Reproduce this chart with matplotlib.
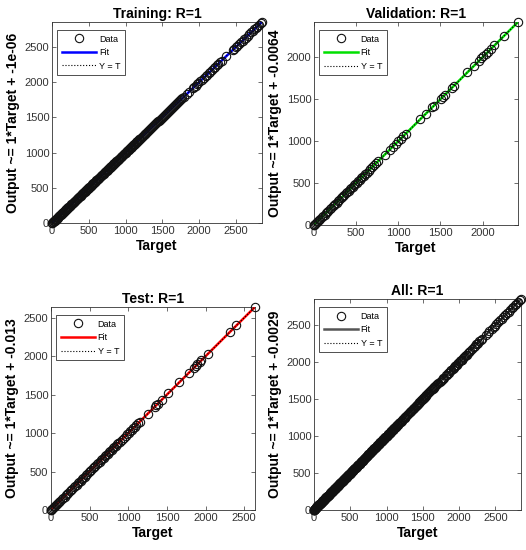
import numpy as np
import matplotlib
matplotlib.use("Agg")
import matplotlib.pyplot as plt

plt.rcParams['font.family'] = ['Liberation Sans', 'DejaVu Sans']

# targets (outputs sit on the diagonal, R=1)
train_target = [
    0, 4, 9, 15, 22, 28, 35, 41, 48, 56, 63, 70, 78, 85, 93, 101, 108, 116, 124, 131,
    139, 147, 154, 162, 170, 178, 185, 193, 201, 209, 217, 224, 232, 240, 248, 255, 263,
    271, 279, 287, 295, 302, 310, 318, 326, 334, 342, 350, 357, 365, 373, 381, 389, 397,
    405, 412, 420, 428, 436, 444, 452, 460, 468, 476, 484, 492, 500, 508, 516, 524, 532,
    540, 548, 556, 564, 572, 580, 588, 596, 604, 612, 620, 628, 636, 645, 653, 661, 669,
    677, 685, 693, 702, 710, 718, 726, 734, 742, 751, 759, 767, 775, 783, 792, 800, 808,
    816, 825, 833, 841, 849, 858, 866, 874, 883, 891, 899, 908, 916, 924, 933, 941, 950,
    958, 966, 975, 983, 992, 1000, 1008, 1017, 1025, 1034, 1042, 1051, 1059, 1068, 1076,
    1085, 1093, 1102, 1110, 1119, 1128, 1136, 1145, 1153, 1162, 1171, 1179, 1188, 1197,
    1208, 1220, 1233, 1245, 1258, 1270, 1284, 1297, 1310, 1322, 1336, 1349, 1362, 1375,
    1389, 1402, 1415, 1428, 1442, 1455, 1468, 1482, 1495, 1509, 1522, 1536, 1549, 1563,
    1577, 1590, 1604, 1618, 1632, 1646, 1660, 1674, 1688, 1702, 1716, 1731, 1745, 1760,
    1774, 1789, 1832, 1858, 1912, 1930, 1951, 1968, 1990, 2012, 2035, 2061, 2087, 2104,
    2128, 2151, 2176, 2203, 2221, 2240, 2262, 2281, 2305, 2372, 2455, 2478, 2496, 2515,
    2540, 2565, 2590, 2612, 2634, 2660, 2685, 2710, 2732, 2751, 2770, 2790, 2812, 2835, 2855,
]
train_output = list(train_target)

val_target = [
    0, 5, 12, 20, 34, 48, 61, 75, 92, 108, 125, 140, 158, 172, 190, 207, 221, 240, 255,
    268, 283, 300, 318, 331, 347, 360, 378, 395, 410, 428, 441, 458, 475, 490, 506, 522,
    540, 555, 572, 590, 608, 625, 648, 668, 690, 712, 735, 762, 840, 900, 935, 968, 1000,
    1030, 1060, 1090, 1258, 1325, 1405, 1420, 1505, 1530, 1550, 1635, 1655, 1820, 1895,
    1960, 1985, 2010, 2035, 2065, 2100, 2140, 2250, 2420,
]
val_output = list(val_target)

test_target = [
    0, 6, 14, 25, 37, 50, 62, 78, 92, 108, 122, 140, 158, 175, 190, 208, 225, 242, 260,
    278, 295, 312, 330, 348, 365, 382, 400, 418, 435, 452, 470, 488, 505, 522, 540, 558,
    575, 592, 610, 628, 645, 662, 680, 698, 715, 732, 750, 768, 785, 802, 820, 838, 855,
    872, 890, 915, 940, 965, 985, 1005, 1025, 1045, 1065, 1085, 1105, 1125, 1150, 1250,
    1340, 1360, 1385, 1430, 1520, 1660, 1780, 1850, 1875, 1895, 1925, 1945, 2030, 2320,
    2400, 2640,
]
test_output = list(test_target)

all_target = train_target + val_target + test_target
all_output = train_output + val_output + test_output

titles = ['Training: R=1', 'Validation: R=1', 'Test: R=1', 'All: R=1']
ylabels = ['Output ~= 1*Target + -1e-06', 'Output ~= 1*Target + -0.0064',
           'Output ~= 1*Target + -0.013', 'Output ~= 1*Target + -0.0029']
fit_colors = ['#0000ff', '#00e000', '#ff0000', '#555555']

W, H = 526, 550
# axes boxes in pixels: left, top, right, bottom
boxes = [(52, 22, 262, 223), (314, 22, 518, 225), (51, 307, 255, 510), (314, 299, 521, 510)]

fig = plt.figure(figsize=(W / 100, H / 100), dpi=100)
grey = '#333333'

panels = [(train_target, train_output), (val_target, val_output),
          (test_target, test_output), (all_target, all_output)]

for i, (t, y) in enumerate(panels):
    l, tp, r, b = boxes[i]
    ax = fig.add_axes([l / W, 1 - b / H, (r - l) / W, (b - tp) / H])
    t = np.array(t, dtype=float)
    y = np.array(y, dtype=float)
    lo, hi = min(t.min(), y.min()), max(t.max(), y.max())
    k, c = np.polyfit(t, y, 1)
    xs = np.array([lo, hi])

    # MATLAB draws the circles last, over the fit line
    ax.plot(t, y, 'o', mfc='none', mec='#111111', ms=6, mew=0.8, label='Data',
            clip_on=False, zorder=5)
    ax.plot(xs, k * xs + c, '-', color=fit_colors[i], lw=1.8, label='Fit', zorder=3)
    ax.plot(xs, xs, ':', color='k', lw=0.8, label='Y = T', zorder=4)

    ax.set_xlim(lo, hi)
    ax.set_ylim(lo, hi)
    ax.set_xticks(np.arange(0, hi + 1, 500))
    ax.set_yticks(np.arange(0, hi + 1, 500))
    ax.tick_params(direction='in', top=True, right=True, length=3, width=0.5,
                   labelsize=8, colors=grey, labelcolor=grey, pad=2)
    for s in ax.spines.values():
        s.set_color(grey)
        s.set_linewidth(0.6)

    ax.set_title(titles[i], fontsize=10, fontweight='bold', pad=3)
    ax.set_xlabel('Target', fontsize=10, fontweight='bold', labelpad=2)
    ax.set_ylabel(ylabels[i], fontsize=10, fontweight='bold', labelpad=3)

    leg = ax.legend(loc='upper left', bbox_to_anchor=(0.025, 0.96), fontsize=6.5,
                    fancybox=False, edgecolor=grey, framealpha=1, handlelength=3.8,
                    borderpad=0.5, labelspacing=0.5, handletextpad=0.3, borderaxespad=0)
    leg.get_frame().set_linewidth(0.6)

fig.savefig('out.png', dpi=100)
